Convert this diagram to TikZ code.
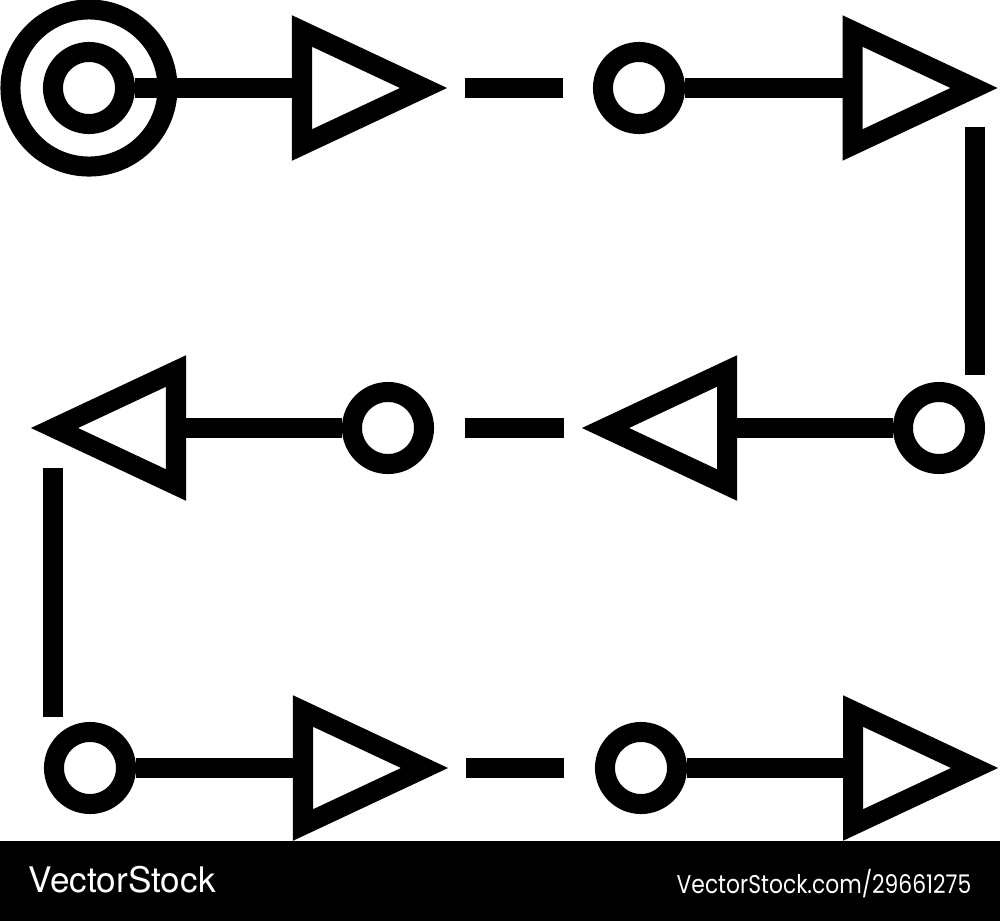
\documentclass[tikz,border=0pt]{standalone}
\usepackage{fontspec}
\setmainfont{TeX Gyre Heros}
\newfontfamily\urlfont{Poppins}
\usetikzlibrary{positioning}

\begin{document}
\begin{tikzpicture}[
    x=0.01cm, y=-0.01cm,
    stop/.style={circle, draw, line width=0.2cm, minimum size=0.72cm, inner sep=0pt},
    link/.style={line width=0.2cm},
    tri/.style={line width=0.2cm, line join=miter},
    credit/.style={text=white, inner sep=0pt, anchor=base}
]
\useasboundingbox (0,0) rectangle (1000,921);
\fill[white] (0,0) rectangle (1000,921);

% Stops
\node[stop, minimum size=1.57cm] (ring) at (89,88) {};
\node[stop] (start) at (89,88) {};
\node[stop] (c2) at (639,88) {};
\node[stop] (c3) at (939,428) {};
\node[stop] (c4) at (388,428) {};
\node[stop] (c5) at (90,768) {};
\node[stop] (c6) at (641,768) {};

% Arrow heads
\foreach \tn/\x/\y/\d in {t1/302/88/1, t2/852.5/88/1, t3/727/428/-1, t4/176/428/-1, t5/303/768/1, t6/853/768/1}{
    \coordinate (\tn) at (\x,\y);
    \coordinate (\tn-tip) at (\x+121.5*\d,\y);
    \draw[tri] (\x,\y-57) -- (\tn-tip) -- (\x,\y+57) -- cycle;
}

% Turns
\coordinate (turn1a) at (975,127);
\coordinate (turn1b) at (975,375);
\coordinate (turn2a) at (53,468);
\coordinate (turn2b) at (53,717);

% Links
\draw[link] (start) -- (t1);
\draw[link, shorten <=0.415cm, shorten >=0.3cm] (t1-tip) -- (c2);
\draw[link] (c2) -- (t2);
\draw[link] (turn1a) -- (turn1b);
\draw[link] (c3) -- (t3);
\draw[link, shorten <=0.31cm, shorten >=0.41cm] (c4) -- (t3-tip);
\draw[link] (c4) -- (t4);
\draw[link] (turn2a) -- (turn2b);
\draw[link] (c5) -- (t5);
\draw[link, shorten <=0.41cm, shorten >=0.31cm] (t5-tip) -- (c6);
\draw[link] (c6) -- (t6);

% Credit bar
\fill[black] (0,841) rectangle (1000,921);
\node[credit, anchor=base west, font=\fontsize{10}{12}\selectfont] (brand) at (28,892) {VectorStock};
\node[credit, anchor=base east, font=\urlfont\fontsize{7.3}{9}\selectfont] (url) at (972,893) {\scalebox{0.85}[1]{VectorStock.com/29661275}};

\end{tikzpicture}
\end{document}
